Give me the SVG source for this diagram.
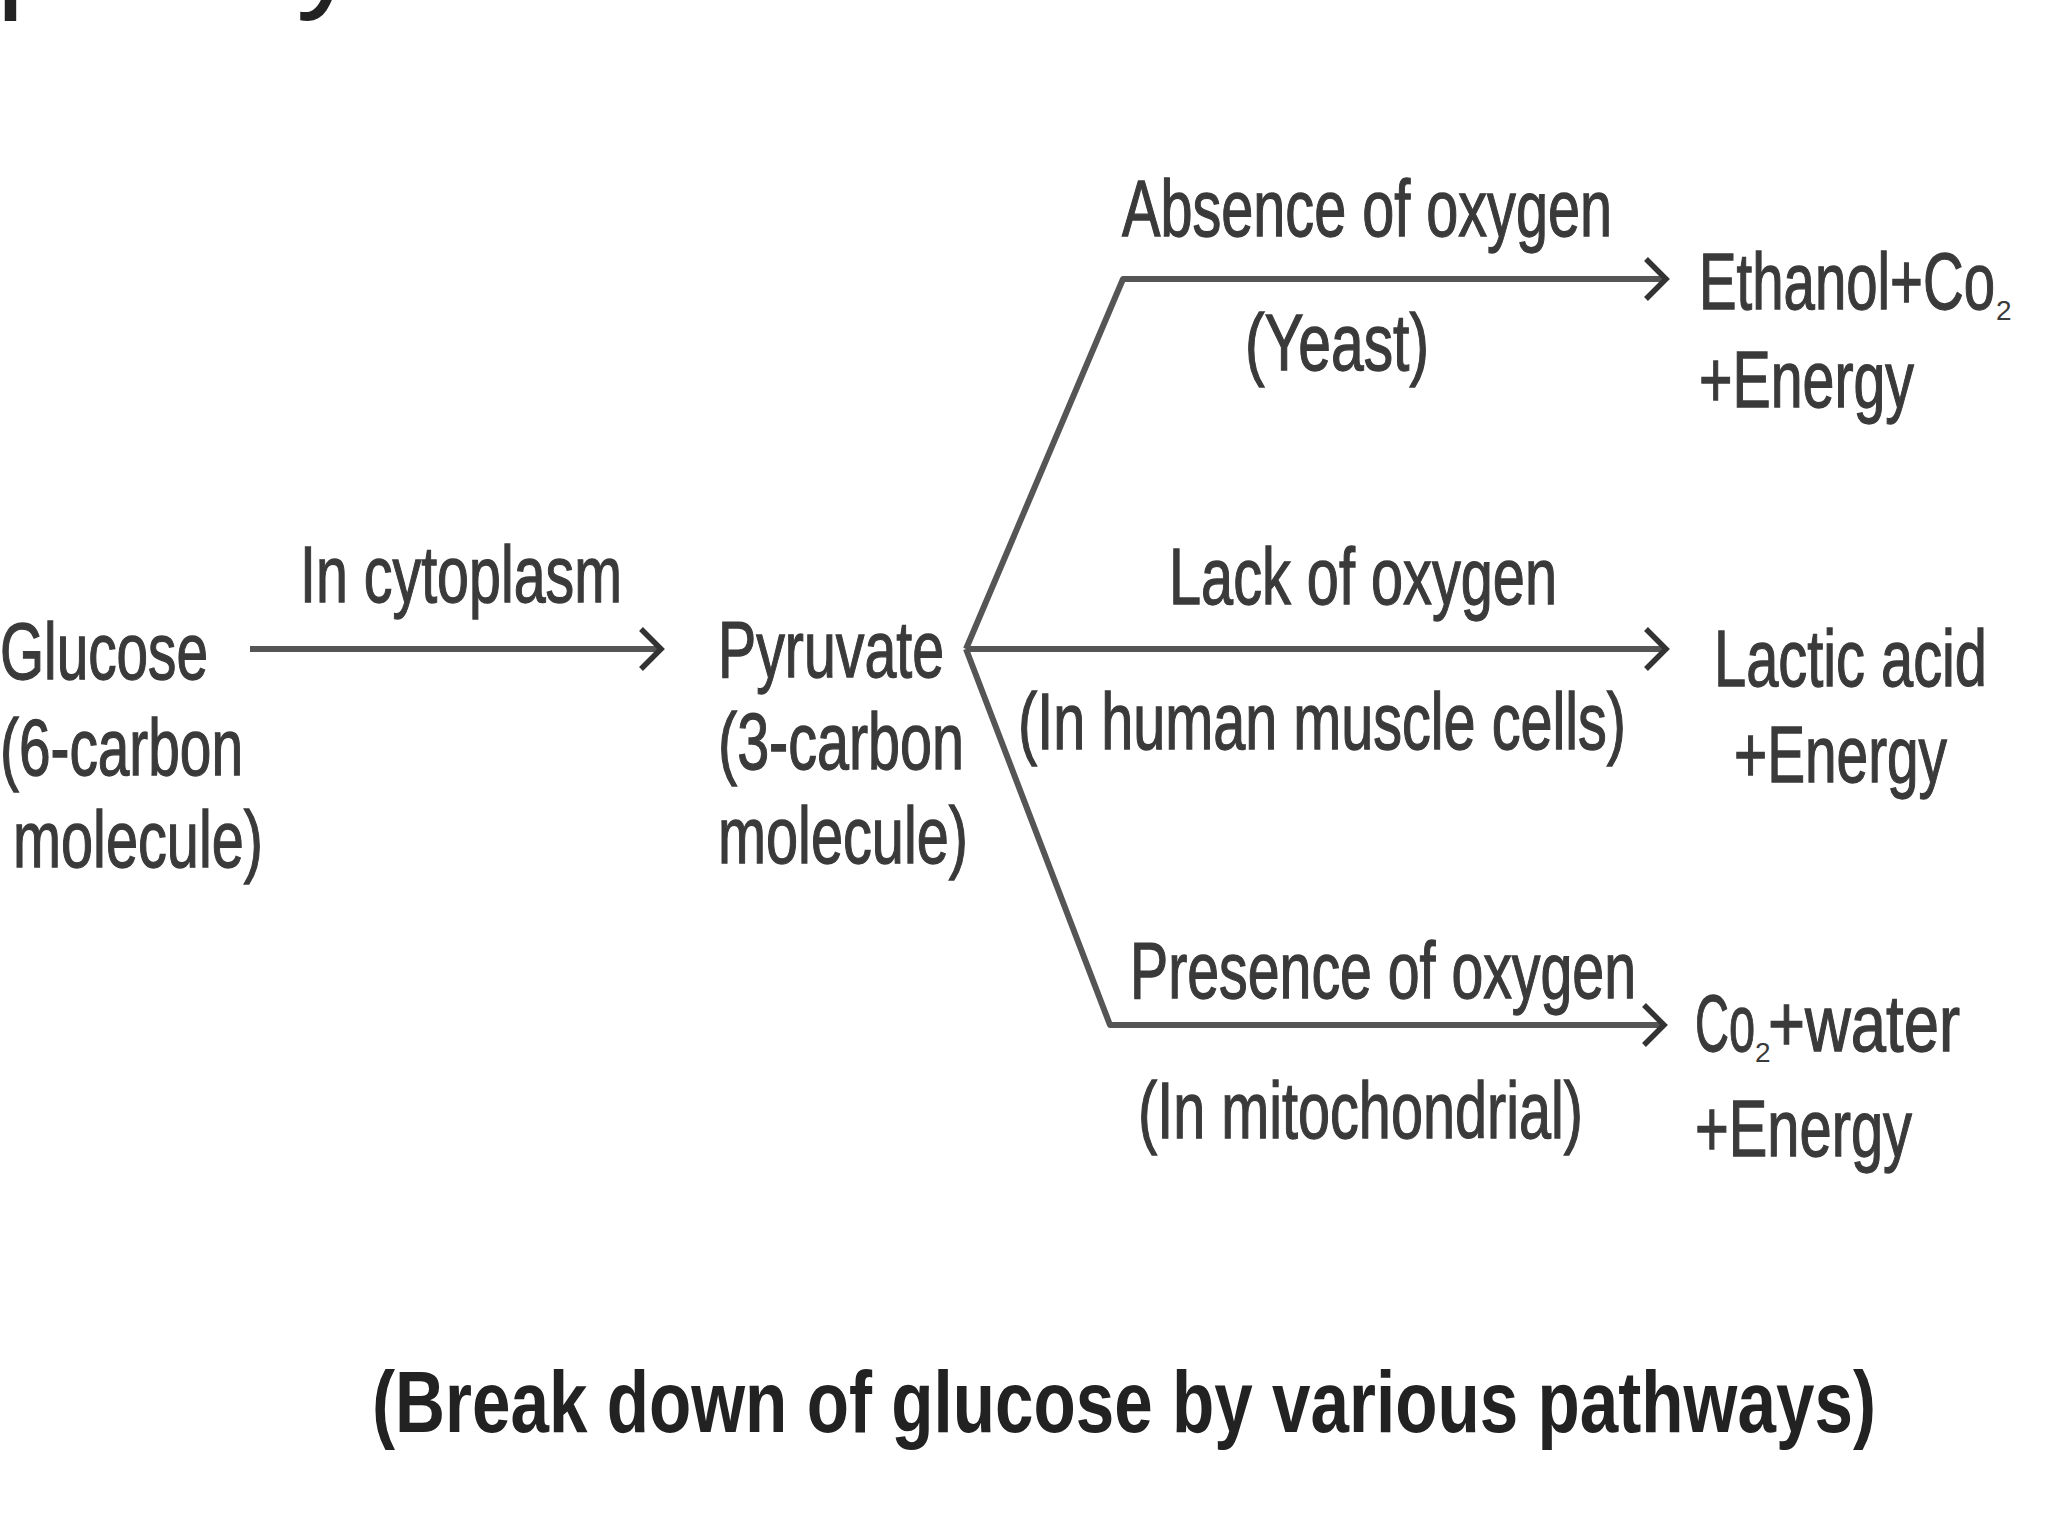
<svg xmlns="http://www.w3.org/2000/svg" width="2048" height="1536" viewBox="0 0 2048 1536">
<style>
.t{font-family:"Liberation Sans Narrow","Liberation Sans",Arial,sans-serif;font-size:80px;fill:#3a3a3a;stroke:#3a3a3a;stroke-width:1.3}
.sub{font-family:"Liberation Sans Narrow","Liberation Sans",Arial,sans-serif;font-size:28px;fill:#3a3a3a}
.cap{font-family:"Liberation Sans Narrow","Liberation Sans",Arial,sans-serif;font-weight:bold;font-size:88px;fill:#222}
.frag{font-family:"Liberation Sans",Arial,sans-serif;font-size:130px;fill:#222}
.ln{fill:none;stroke:#555;stroke-width:6;stroke-linejoin:round}
</style>
<defs>
<marker id="chev" markerUnits="userSpaceOnUse" markerWidth="30" markerHeight="50" refX="22" refY="22" orient="auto" viewBox="0 0 30 50">
<path d="M2,2 L22,22 L2,42" fill="none" stroke="#333" stroke-width="5.5"/>
</marker>
</defs>
<rect width="2048" height="1536" fill="#fff"/>
<g id="fragments">
<text class="frag" x="-4" y="-6">p</text>
<text class="frag" x="296" y="-6">y</text>
</g>
<g id="connectors">
<path class="ln" d="M250,649 L661,649" marker-end="url(#chev)"/>
<path class="ln" d="M966,649 L1123,279 L1666,279" marker-end="url(#chev)"/>
<path class="ln" d="M966,649 L1666,649" marker-end="url(#chev)"/>
<path class="ln" d="M966,649 L1110,1025 L1664,1025" marker-end="url(#chev)"/>
</g>
<g id="glucose">
<text class="t" x="0" y="679" textLength="208" lengthAdjust="spacingAndGlyphs">Glucose</text>
<text class="t" x="0" y="775" textLength="243" lengthAdjust="spacingAndGlyphs">(6-carbon</text>
<text class="t" x="13" y="867" textLength="250" lengthAdjust="spacingAndGlyphs">molecule)</text>
</g>
<g id="label-cytoplasm">
<text class="t" x="300" y="602" textLength="322" lengthAdjust="spacingAndGlyphs">In cytoplasm</text>
</g>
<g id="pyruvate">
<text class="t" x="718" y="677" textLength="226" lengthAdjust="spacingAndGlyphs">Pyruvate</text>
<text class="t" x="718" y="769" textLength="246" lengthAdjust="spacingAndGlyphs">(3-carbon</text>
<text class="t" x="718" y="863" textLength="250" lengthAdjust="spacingAndGlyphs">molecule)</text>
</g>
<g id="label-absence">
<text class="t" x="1122" y="236" textLength="490" lengthAdjust="spacingAndGlyphs">Absence of oxygen</text>
<text class="t" x="1245" y="370" textLength="184" lengthAdjust="spacingAndGlyphs">(Yeast)</text>
</g>
<g id="ethanol">
<text class="t" x="1699" y="309" textLength="296" lengthAdjust="spacingAndGlyphs">Ethanol+Co</text>
<text class="sub" x="1996" y="320">2</text>
<text class="t" x="1699" y="407" textLength="215" lengthAdjust="spacingAndGlyphs">+Energy</text>
</g>
<g id="label-lack">
<text class="t" x="1169" y="604" textLength="388" lengthAdjust="spacingAndGlyphs">Lack of oxygen</text>
<text class="t" x="1018" y="749" textLength="608" lengthAdjust="spacingAndGlyphs">(In human muscle cells)</text>
</g>
<g id="lactic">
<text class="t" x="1714" y="686" textLength="273" lengthAdjust="spacingAndGlyphs">Lactic acid</text>
<text class="t" x="1734" y="782" textLength="213" lengthAdjust="spacingAndGlyphs">+Energy</text>
</g>
<g id="label-presence">
<text class="t" x="1130" y="998" textLength="506" lengthAdjust="spacingAndGlyphs">Presence of oxygen</text>
<text class="t" x="1138" y="1138" textLength="445" lengthAdjust="spacingAndGlyphs">(In mitochondrial)</text>
</g>
<g id="co2water">
<text class="t" x="1695" y="1051" textLength="60" lengthAdjust="spacingAndGlyphs">Co</text>
<text class="sub" x="1755" y="1062">2</text>
<text class="t" x="1768" y="1051" textLength="192" lengthAdjust="spacingAndGlyphs">+water</text>
<text class="t" x="1695" y="1156" textLength="217" lengthAdjust="spacingAndGlyphs">+Energy</text>
</g>
<g id="caption">
<text class="cap" x="372" y="1432" textLength="1504" lengthAdjust="spacingAndGlyphs">(Break down of glucose by various pathways)</text>
</g>
</svg>
